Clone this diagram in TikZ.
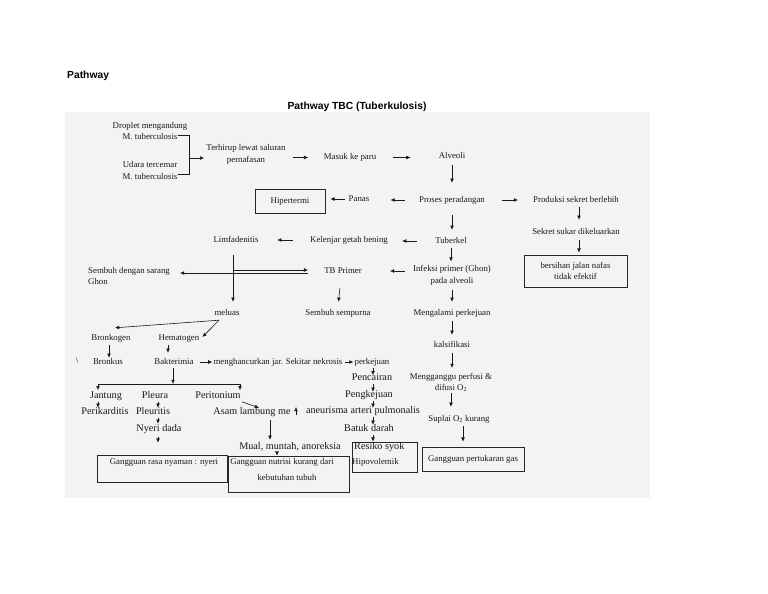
\documentclass[tikz,border=0pt]{standalone}
\usepackage{fontspec}
\setmainfont{Liberation Serif}
\newfontfamily\hvb{Liberation Sans}
\usetikzlibrary{arrows.meta}
\definecolor{bgc}{RGB}{243,243,243}
\begin{document}
\begin{tikzpicture}[x=1pt,y=-1pt,
  sm/.style={font=\fontsize{8.8}{11}\selectfont, inner sep=1pt, text=black!90, text height=6pt, text depth=2pt},
  smm/.style={font=\fontsize{8.8}{11.5}\selectfont, inner sep=1pt, text=black!90, align=center},
  lg/.style={font=\fontsize{10.2}{12}\selectfont, inner sep=1pt, text=black!90, text height=7pt, text depth=2.2pt},
  hv/.style={font=\hvb\bfseries\fontsize{10.3}{12}\selectfont, inner sep=1pt, text=black},
  arr/.style={draw=black!90, line width=0.6pt, -{Latex[length=4.2pt,width=3.8pt]}},
  ln/.style={draw=black!90, line width=0.6pt},
  bx/.style={draw=black!85, line width=0.7pt, inner sep=0pt}]
\useasboundingbox (0,0) rectangle (768,594);
\fill[white] (0,0) rectangle (768,594);
\fill[bgc] (65,112) rectangle (650,498);
% titles
\node[hv, anchor=west] (pw) at (66,76) {Pathway};
\node[hv] (ttl) at (357,107) {Pathway TBC (Tuberkulosis)};
% top row
\node[smm] (d1) at (150,131) {Droplet mengandung\\M. tuberculosis};
\node[smm] (d2) at (150,170.5) {Udara tercemar\\M. tuberculosis};
\node[smm] (ter) at (246,154.5) {Terhirup lewat saluran\\pernafasan};
\node[sm] (mkp) at (350,157.5) {Masuk ke paru};
\node[sm] (alv) at (452,156) {Alveoli};
\node[sm] (pp) at (452,200) {Proses peradangan};
\node[sm] (pan) at (359,199) {Panas};
\node[sm,bx,minimum width=70pt,minimum height=24pt] (hip) at (290,201) {Hipertermi};
\node[sm] (prod) at (576,200) {Produksi sekret berlebih};
\node[sm] (skr) at (576,232) {Sekret sukar dikeluarkan};
\node[smm,bx,minimum width=103pt,minimum height=32pt] (bjn) at (575.5,271) {bersihan jalan nafas\\tidak efektif};
\node[sm] (tub) at (451,241) {Tuberkel};
\node[sm] (kgb) at (349,240) {Kelenjar getah bening};
\node[sm] (lim) at (236,240) {Limfadenitis};
\node[smm] (inf) at (452,275.5) {Infeksi primer (Ghon)\\pada alveoli};
\node[sm] (tbp) at (343,271) {TB Primer};
\node[sm,anchor=west] (sg1) at (87,271) {Sembuh dengan sarang};
\node[sm,anchor=west] (sg2) at (87,282) {Ghon};
\node[sm] (ssp) at (338,313) {Sembuh sempurna};
\node[sm] (mel) at (227,313) {meluas};
\node[sm] (mgp) at (452,313) {Mengalami perkejuan};
\node[sm] (kal) at (452,345) {kalsifikasi};
\node[smm] (mpd) at (451,382.5) {Mengganggu perfusi \&\\difusi O\textsubscript{2}};
\node[sm] (sup) at (459,419) {Suplai O\textsubscript{2} kurang};
\node[sm,bx,minimum width=102pt,minimum height=24pt] (gpg) at (473,459) {Gangguan pertukaran gas};
% left middle
\node[sm] (bro) at (111,338) {Bronkogen};
\node[sm] (hem) at (179,338) {Hematogen};
\node[sm] (brk) at (108,362) {Bronkus};
\node[sm] (bsl) at (77,361) {\textbackslash};
\node[sm] (bak) at (174,362) {Bakterimia};
\node[sm] (mjs) at (278,362) {menghancurkan jar. Sekitar nekrosis};
\node[sm] (pkj) at (372,362) {perkejuan};
\node[lg] (pen) at (372,378) {Pencairan};
\node[lg] (pgk) at (369,395) {Pengkejuan};
\node[lg] (ane) at (363,411) {aneurisma arteri pulmonalis};
\node[lg] (btk) at (369,429) {Batuk darah};
\node[bx,minimum width=65pt,minimum height=30pt] (rsk) at (384.5,457) {};
\node[lg,anchor=west] (rs1) at (353,447.5) {Resiko syok};
\node[sm,anchor=west] (rs2) at (351,462) {Hipovolemik};
\node[lg] (jan) at (106,396) {Jantung};
\node[lg] (ple) at (155,396) {Pleura};
\node[lg] (per) at (218,396) {Peritonium};
\node[lg] (prk) at (105,412) {Perikarditis};
\node[lg] (plt) at (153,412) {Pleuritis};
\node[lg] (nyd) at (159,429) {Nyeri dada};
\node[lg] (asm) at (252,412) {Asam lambung me};
\node[lg] (mma) at (290,447) {Mual, muntah, anoreksia};
\node[bx,minimum width=130pt,minimum height=27pt] (grn) at (162.5,468.5) {};
\node[sm] (gr1) at (164,462) {Gangguan rasa nyaman : nyeri};
\node[bx,minimum width=121pt,minimum height=36pt] (gnk) at (288.5,474) {};
\node[sm] (gn1) at (282,462) {Gangguan nutrisi kurang dari};
\node[sm] (gn2) at (287,478) {kebutuhan tubuh};
% helper coordinates
\coordinate (bt) at (178,135);
\coordinate (bt2) at (189,135);
\coordinate (bb2) at (189,174);
\coordinate (bb) at (178,174);
\coordinate (bj) at (189,158);
\coordinate (lj) at (233,270);
\coordinate (tl) at ([yshift=-2pt]tbp.west);
\coordinate (hl) at (98,384);
\coordinate (hr) at (240,384);
\coordinate (hm) at (173,384);
\coordinate (ua1) at (296,415);
\coordinate (ua2) at (296,407);
% bracket
\draw[ln] (bt) -- (bt2) -- (bb2) -- (bb);
\draw[arr, shorten >=1pt] (bj) -- (bj -| ter.west);
% top horizontal arrows
\draw[arr, shorten <=6pt, shorten >=14.5pt] (ter.east |- mkp.west) -- (mkp.west);
\draw[arr, shorten <=16pt, shorten >=27pt] (mkp.east) -- (mkp.east -| alv.west);
\draw[arr, shorten <=13pt, shorten >=20pt] (pp.west) -- (pp.west -| pan.east);
\draw[arr, shorten <=3pt, shorten >=5pt] (pan.west) -- (pan.west -| hip.east);
\draw[arr, shorten <=16pt, shorten >=14pt] (pp.east) -- (prod.west);
\draw[arr, shorten <=17pt, shorten >=13pt] (tub.west) -- (tub.west -| kgb.east);
\draw[arr, shorten <=16pt, shorten >=17.5pt] (kgb.west) -- (kgb.west -| lim.east);
\draw[arr, shorten <=7pt, shorten >=27pt] (tbp.east -| inf.west) -- (tbp.east);
\draw[arr, shorten <=5.5pt] (bak.east) -- (bak.east -| mjs.west);
\draw[arr, shorten <=1.5pt] (mjs.east) -- (mjs.east -| pkj.west);
% central column
\draw[arr, shorten <=4pt, shorten >=12pt] (alv.south) -- (pp.north);
\draw[arr, shorten <=10pt, shorten >=6pt] (pp.south) -- (pp.south |- tub.north);
\draw[arr, shorten <=2pt, shorten >=3pt] (tub.south) -- (tub.south |- inf.north);
\draw[arr, shorten <=4pt, shorten >=6pt] (inf.south) -- (mgp.north);
\draw[arr, shorten <=3pt, shorten >=5pt] (mgp.south) -- (kal.north);
\draw[arr, shorten <=3pt, shorten >=4pt] (kal.south) -- (kal.south |- mpd.north);
\draw[arr, shorten >=7pt] (mpd.south) -- (mpd.south |- sup.north);
\draw[arr, shorten <=2pt, shorten >=5pt] ([xshift=4pt]sup.south) -- ([xshift=-10pt]gpg.north);
\draw[arr, shorten <=2pt, shorten >=7pt] ([xshift=3pt]prod.south) -- ([xshift=3pt]skr.north);
\draw[arr, shorten <=3pt, shorten >=2pt] ([xshift=3pt]skr.south) -- ([xshift=3.5pt]bjn.north);
% TB primer branches
\draw[arr, shorten <=10pt, shorten >=6pt] ([xshift=-3pt]lim.south) -- ([xshift=6pt]mel.north);
\draw[arr, shorten >=15pt] (lj) -- (lj -| tbp.west);
\draw[arr, shorten <=15pt, shorten >=9pt] (tl) -- (tl -| sg1.east);
\draw[arr, shorten <=12pt, shorten >=6pt] ([xshift=-2pt]tbp.south) -- (ssp.north);
% meluas fan
\draw[arr] ([xshift=-8pt,yshift=-2pt]mel.south) -- ([xshift=4pt,yshift=5pt]bro.north);
\draw[arr] ([xshift=-8pt,yshift=-2pt]mel.south) -- ([xshift=2pt,yshift=1pt]hem.east);
\draw[arr, shorten <=2pt, shorten >=-1pt] ([xshift=-2pt]bro.south) -- ([xshift=1pt]brk.north);
\draw[arr, shorten <=2pt, shorten >=4pt] ([xshift=-11pt]hem.south) -- ([xshift=-6pt]bak.north);
% Bakterimia fan
\draw[arr, shorten <=1pt] ([xshift=-1pt]bak.south) -- (hm);
\draw[ln] (hl) -- (hr);
\draw[arr] (hl) -- (hl |- jan.north);
\draw[arr] (hr) -- (hr |- per.north);
\draw[arr, shorten >=-1.6pt] ([xshift=-8pt]jan.south) -- ([xshift=-7pt]prk.north);
\draw[arr, shorten >=-1.6pt] ([xshift=3pt]ple.south) -- ([xshift=5pt]plt.north);
\draw[arr, shorten >=-0.6pt] ([xshift=5pt]plt.south) -- ([xshift=-1pt]nyd.north);
\draw[arr, shorten <=2.4pt, shorten >=12pt] ([xshift=-1pt]nyd.south) -- ([xshift=-4.5pt]grn.north);
\draw[arr] (per.south east) -- ([xshift=7pt,yshift=-1.6pt]asm.north);
\draw[arr, shorten <=2.4pt, shorten >=1.4pt] ([xshift=18pt]asm.south) -- ([xshift=-20pt]mma.north);
\draw[arr] ([xshift=-13pt]mma.south) -- ([xshift=-11.5pt]gnk.north);
\draw[arr] (ua1) -- (ua2);
% perkejuan column
\draw[arr, shorten <=1pt, shorten >=-3pt] ([xshift=1pt]pkj.south) -- ([xshift=1pt]pen.north);
\draw[arr, shorten >=-2.6pt] ([xshift=1pt]pen.south) -- ([xshift=4pt]pgk.north);
\draw[arr, shorten >=-2.6pt] ([xshift=4pt]pgk.south) -- ([xshift=10pt]ane.north);
\draw[arr, shorten >=-1.6pt] ([xshift=10pt]ane.south) -- ([xshift=4pt]btk.north);
\draw[arr] ([xshift=4pt]btk.south) -- ([xshift=-11.5pt]rsk.north);
\end{tikzpicture}
\end{document}
